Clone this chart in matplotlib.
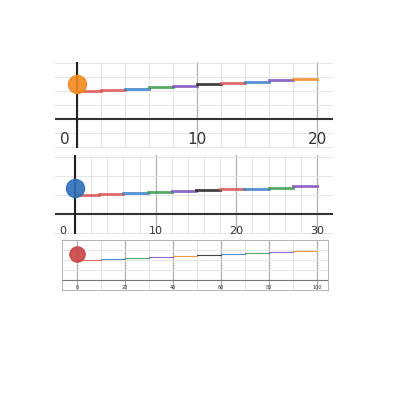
import matplotlib
matplotlib.use("Agg")
import matplotlib.pyplot as plt

steps1 = [1.00, 1.04, 1.09, 1.14, 1.19, 1.24, 1.29, 1.34, 1.39, 1.45]
steps2 = [1.00, 1.04, 1.09, 1.14, 1.19, 1.24, 1.29, 1.34, 1.39, 1.45]
steps3 = [1.00, 1.05, 1.10, 1.15, 1.20, 1.25, 1.30, 1.35, 1.40, 1.45]
colors1 = ["#d9534f", "#d9534f", "#3a7dc9", "#3a9a4a", "#7a4fbf", "#222222", "#d9534f", "#3a7dc9", "#7a4fbf", "#f28a1e"]
colors2 = ["#d9534f", "#d9534f", "#3a7dc9", "#3a9a4a", "#7a4fbf", "#222222", "#d9534f", "#3a7dc9", "#3a9a4a", "#7a4fbf"]
colors3 = ["#d9534f", "#3a7dc9", "#3a9a4a", "#7a4fbf", "#f28a1e", "#222222", "#3a7dc9", "#3a9a4a", "#7a4fbf", "#f28a1e"]
dots = [1.25, 1.35, 1.3]
dot_colors = ["#f28a1e", "#2f6fb8", "#c94444"]

fig = plt.figure(figsize=(4, 4), dpi=100)
specs = [
    dict(rect=[0.1375, 0.63, 0.695, 0.215], width=2, xlim=(-1.8, 21.3), ylim=(-1.05, 2.05),
         major=10, minor=2, steps=steps1, cols=colors1, lw=2.0, fs=11, ms=13, yminor=0.5, frame=False),
    dict(rect=[0.1375, 0.415, 0.695, 0.1975], width=3, xlim=(-2.5, 32), ylim=(-1.05, 3.1),
         major=10, minor=2, steps=steps2, cols=colors2, lw=2.0, fs=8, ms=13, yminor=1.0, frame=False),
    dict(rect=[0.155, 0.275, 0.665, 0.125], width=10, xlim=(-6.25, 104.6), ylim=(-0.5, 2.0),
         major=20, minor=10, steps=steps3, cols=colors3, lw=0.8, fs=3.5, ms=11, yminor=0.5, frame=True),
]
for i, s in enumerate(specs):
    ax = fig.add_axes(s["rect"])
    ax.set_xlim(*s["xlim"]); ax.set_ylim(*s["ylim"])
    import numpy as np
    xm = np.arange(0, s["xlim"][1] + 1, s["minor"])
    xm = np.concatenate([-xm[1:][::-1][:2], xm])
    for x in xm:
        if s["xlim"][0] <= x <= s["xlim"][1]:
            ax.axvline(x, color="#e4e4e4", lw=0.7, zorder=0)
    for x in np.arange(0, s["xlim"][1] + 1, s["major"]):
        ax.axvline(x, color="#b0b0b0", lw=0.9, zorder=0)
    for y in np.arange(-2, 4, s["yminor"]):
        ax.axhline(y, color="#e4e4e4", lw=0.7, zorder=0)
    ax.axhline(0, color="#333333" if not s["frame"] else "#777777", lw=1.5 if not s["frame"] else 0.8, zorder=1)
    if not s["frame"]:
        ax.axvline(0, color="#222222", lw=1.5, zorder=1)
    for k, (v, c) in enumerate(zip(s["steps"], s["cols"])):
        ax.plot([k * s["width"], (k + 1) * s["width"]], [v, v], color=c, lw=s["lw"], alpha=0.85, zorder=2)
    ax.plot([0], [dots[i]], "o", color=dot_colors[i], ms=s["ms"], alpha=0.9, zorder=3, clip_on=False)
    for x in np.arange(0, s["xlim"][1] + 1, s["major"]):
        ax.text(x if x > 0 or s["frame"] else -0.6 * s["width"] / 2 - s["xlim"][1] * 0.02, -0.15 * (s["ylim"][1] - s["ylim"][0]) if not s["frame"] else -0.25,
                f"{int(x)}", ha="center", va="top", fontsize=s["fs"], color="#333333")
    ax.set_xticks([]); ax.set_yticks([])
    for sp in ax.spines.values():
        sp.set_visible(s["frame"])
        sp.set_color("#aaaaaa"); sp.set_linewidth(0.6)
fig.savefig("out.png", dpi=100)
